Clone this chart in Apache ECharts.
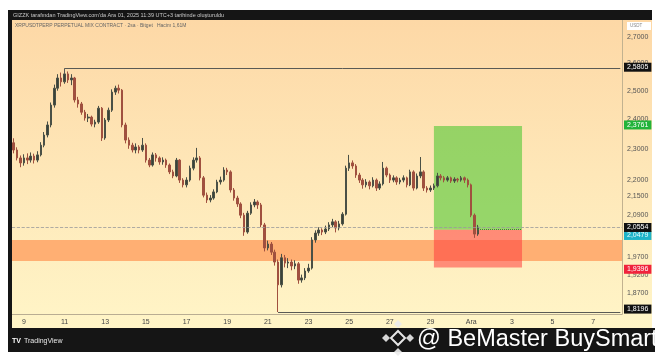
<!DOCTYPE html>
<html><head><meta charset="utf-8">
<script src="https://cdn.jsdelivr.net/npm/echarts@6/dist/echarts.min.js"></script>
<style>html,body{margin:0;padding:0;background:#fff}#c{width:662px;height:362px}</style>
</head><body><div id="c"></div>
<script>
// ---- data (4h candles, XRPUSDT.P) ----
// [open, close, low, high]
const ohlc = [
[2.320,2.296,2.285,2.335],[2.296,2.270,2.262,2.305],[2.270,2.254,2.240,2.278],[2.254,2.270,2.245,2.282],
[2.270,2.263,2.250,2.285],[2.263,2.276,2.255,2.288],[2.276,2.263,2.252,2.284],[2.263,2.280,2.256,2.292],
[2.280,2.312,2.275,2.322],[2.312,2.346,2.305,2.356],[2.346,2.380,2.338,2.392],[2.380,2.449,2.372,2.458],
[2.449,2.509,2.440,2.522],[2.509,2.546,2.500,2.560],[2.546,2.532,2.515,2.566],[2.532,2.561,2.525,2.5805],
[2.561,2.539,2.528,2.570],[2.539,2.546,2.520,2.560],[2.546,2.467,2.458,2.550],[2.467,2.453,2.440,2.478],
[2.453,2.424,2.415,2.460],[2.424,2.404,2.395,2.432],[2.404,2.407,2.390,2.418],[2.407,2.383,2.375,2.412],
[2.383,2.390,2.372,2.398],[2.390,2.438,2.384,2.446],[2.438,2.336,2.326,2.442],[2.336,2.397,2.330,2.404],
[2.397,2.431,2.390,2.440],[2.431,2.495,2.425,2.505],[2.495,2.509,2.485,2.518],[2.509,2.502,2.490,2.522],
[2.502,2.380,2.372,2.506],[2.380,2.329,2.318,2.388],[2.329,2.312,2.300,2.338],[2.312,2.296,2.288,2.320],
[2.296,2.306,2.285,2.318],[2.306,2.296,2.285,2.312],[2.296,2.312,2.290,2.336],[2.312,2.263,2.255,2.318],
[2.263,2.247,2.240,2.270],[2.247,2.280,2.242,2.288],[2.280,2.270,2.258,2.286],[2.270,2.257,2.248,2.275],
[2.257,2.263,2.248,2.272],[2.263,2.247,2.238,2.268],[2.247,2.225,2.218,2.252],[2.225,2.212,2.205,2.232],
[2.212,2.263,2.208,2.270],[2.263,2.199,2.190,2.266],[2.199,2.184,2.176,2.205],[2.184,2.199,2.176,2.208],
[2.199,2.237,2.194,2.245],[2.237,2.263,2.230,2.272],[2.263,2.270,2.255,2.303],[2.270,2.206,2.198,2.276],
[2.206,2.152,2.145,2.212],[2.152,2.137,2.128,2.160],[2.137,2.143,2.130,2.152],[2.143,2.162,2.138,2.170],
[2.162,2.193,2.158,2.200],[2.193,2.199,2.185,2.210],[2.199,2.231,2.194,2.240],[2.231,2.225,2.215,2.238],
[2.225,2.168,2.160,2.230],[2.168,2.143,2.135,2.174],[2.143,2.125,2.116,2.150],[2.125,2.091,2.082,2.130],
[2.091,2.041,2.030,2.098],[2.041,2.097,2.036,2.104],[2.097,2.122,2.092,2.130],[2.122,2.131,2.115,2.140],
[2.131,2.122,2.110,2.136],[2.122,2.062,2.055,2.128],[2.062,1.995,1.985,2.068],[1.995,2.006,1.988,2.016],
[2.006,1.983,1.975,2.012],[1.983,1.955,1.945,1.990],[1.955,1.892,1.8196,1.962],[1.892,1.967,1.885,1.978],
[1.967,1.952,1.940,1.975],[1.952,1.955,1.938,1.966],[1.955,1.944,1.932,1.962],[1.944,1.950,1.935,1.960],
[1.950,1.905,1.895,1.955],[1.905,1.911,1.898,1.920],[1.911,1.930,1.905,1.938],[1.930,1.938,1.925,1.950],
[1.938,2.018,1.934,2.026],[2.018,2.038,2.010,2.046],[2.038,2.047,2.030,2.055],[2.047,2.041,2.032,2.052],
[2.041,2.050,2.035,2.060],[2.050,2.062,2.044,2.070],[2.062,2.071,2.055,2.080],[2.071,2.053,2.040,2.076],
[2.053,2.065,2.046,2.074],[2.065,2.094,2.060,2.100],[2.094,2.237,2.090,2.245],[2.237,2.254,2.228,2.280],
[2.254,2.244,2.235,2.262],[2.244,2.215,2.206,2.250],[2.215,2.199,2.190,2.222],[2.199,2.184,2.172,2.205],
[2.184,2.193,2.176,2.202],[2.193,2.181,2.170,2.198],[2.181,2.199,2.176,2.208],[2.199,2.174,2.165,2.204],
[2.174,2.187,2.168,2.195],[2.187,2.237,2.182,2.257],[2.237,2.215,2.208,2.242],[2.215,2.199,2.190,2.220],
[2.199,2.206,2.192,2.214],[2.206,2.193,2.184,2.211],[2.193,2.199,2.186,2.206],[2.199,2.206,2.192,2.214],
[2.206,2.184,2.176,2.210],[2.184,2.225,2.180,2.232],[2.225,2.174,2.166,2.230],[2.174,2.212,2.170,2.220],
[2.212,2.225,2.205,2.273],[2.225,2.174,2.165,2.230],[2.174,2.168,2.160,2.180],[2.168,2.174,2.162,2.182],
[2.174,2.181,2.168,2.188],[2.181,2.212,2.176,2.222],[2.212,2.206,2.198,2.218],[2.206,2.199,2.192,2.212],
[2.199,2.206,2.194,2.212],[2.206,2.196,2.190,2.210],[2.196,2.202,2.190,2.208],[2.202,2.199,2.192,2.206],
[2.199,2.206,2.194,2.212],[2.206,2.199,2.190,2.210],[2.199,2.184,2.176,2.204],[2.184,2.091,2.085,2.188],
[2.091,2.035,2.024,2.096],[2.035,2.0554,2.030,2.062]
];
const priceTicks = [2.7, 2.6, 2.5, 2.4, 2.3, 2.2, 2.15, 2.09, 1.97, 1.92, 1.87];
const dayTicks = ['9','11','13','15','17','19','21','23','25','27','29','Ara','3','5','7'];
const highLevel = 2.5805, lowLevel = 1.8196, lastPrice = 2.0554;
const targetPrice = 2.3761, entryPrice = 2.0479, stopPrice = 1.9396;
const zoneTop = 2.018, zoneBottom = 1.958;
const highIdx = 15, lowIdx = 78, posStartIdx = 124, posEndIdx = 150;
const slotCount = 180;

// ---- build ----
const L = Math.log;
const fmt = p => p.toFixed(4).replace('.', ',');
const base = Date.UTC(2025, 10, 8, 12);
const cats = [];
for (let i = 0; i < slotCount; i++) {
  const d = new Date(base + i * 4 * 3600e3);
  cats.push((d.getUTCDate()) + '.' + (d.getUTCMonth() + 1) + ' ' + d.getUTCHours() + ':00');
}
const candleData = ohlc.map(r => r.map(L));
const yMax = L(2.767), yMin = L(1.8145);
const lastIdx = slotCount - 1;
const F = 'Liberation Sans';

function axisTag(p, bg, fg, dy) {
  return {
    yAxis: L(p),
    lineStyle: { color: 'rgba(0,0,0,0)', width: 0.1, type: 'solid' },
    label: { show: true, position: 'end', distance: 2, formatter: fmt(p), backgroundColor: bg, color: fg,
      fontSize: 7, fontFamily: F, padding: [1.5, 3, 0.5, 3], offset: [0, dy || 0] }
  };
}

const chart = echarts.init(document.getElementById('c'), null, { renderer: 'canvas' });
chart.setOption({
  animation: false,
  backgroundColor: '#ffffff',
  grid: { left: 12, right: 40, top: 20, bottom: 48 },
  xAxis: {
    type: 'category', data: cats, boundaryGap: true,
    axisLine: { show: true, lineStyle: { color: '#b9ad92', width: 1 } },
    axisTick: { show: false },
    axisLabel: {
      interval: i => i >= 3 && (i - 3) % 12 === 0,
      formatter: (v, i) => dayTicks[(i - 3) / 12] || '',
      color: '#444', fontSize: 7, fontFamily: F, margin: 5
    },
    splitLine: { show: false }
  },
  yAxis: {
    type: 'value', position: 'right', min: yMin, max: yMax, scale: true,
    axisLine: { show: true, lineStyle: { color: '#c2b290', width: 1 } },
    axisTick: { show: false },
    splitLine: { show: false },
    axisLabel: {
      customValues: priceTicks.map(L),
      formatter: v => fmt(Math.exp(v)),
      color: '#555', fontSize: 7, fontFamily: F, margin: 5
    }
  },
  graphic: [
    { type: 'rect', z: -10, silent: true, shape: { x: 12, y: 20, width: 640, height: 308 },
      style: { fill: new echarts.graphic.LinearGradient(0, 0, 0, 1, [
        { offset: 0, color: '#fdd8a6' }, { offset: 0.5, color: '#fee7b8' }, { offset: 1, color: '#fff5c7' }]) } },
    { type: 'rect', z: 100, silent: true, shape: { x: 8, y: 10, width: 644, height: 10 }, style: { fill: '#151515' } },
    { type: 'rect', z: 100, silent: true, shape: { x: 8, y: 10, width: 4, height: 342 }, style: { fill: '#151515' } },
    { type: 'rect', z: 100, silent: true, shape: { x: 8, y: 328, width: 647, height: 24 }, style: { fill: '#151515' } },
    { type: 'text', z: 101, silent: true, style: { x: 13, y: 15.5, text: "GIZZK tarafından TradingView.com'da Ara 01, 2025 11:39 UTC+3 tarihinde oluşturuldu",
      fill: '#c8c8c8', fontSize: 5.5, fontFamily: F, verticalAlign: 'middle' } },
    { type: 'text', z: 101, silent: true, style: { x: 15, y: 26, text: 'XRPUSDTPERP PERPETUAL MIX CONTRACT · 2sa · Bitget   Hacim 1,61M',
      fill: '#666', fontSize: 5, fontFamily: F, verticalAlign: 'middle' } },
    { type: 'rect', z: 101, silent: true, shape: { x: 627, y: 22, width: 24, height: 8 }, style: { fill: '#ffffff' } },
    { type: 'text', z: 102, silent: true, style: { x: 630, y: 26, text: 'USDT', fill: '#888', fontSize: 4.5, fontFamily: F, verticalAlign: 'middle' } },
    { type: 'text', z: 101, silent: true, style: { x: 12, y: 341, text: 'TV', fill: '#fff', fontSize: 7, fontWeight: 'bold', fontFamily: F, verticalAlign: 'middle' } },
    { type: 'text', z: 101, silent: true, style: { x: 24, y: 341, text: 'TradingView', fill: '#e8e8e8', fontSize: 7, fontFamily: F, verticalAlign: 'middle' } },
    // watermark logo (diamond outlines)
    { type: 'polygon', z: 102, silent: true, shape: { points: [[398,331],[405,338],[398,345],[391,338]] }, style: { fill: 'none', stroke: 'rgba(240,240,240,0.95)', lineWidth: 2 } },
    { type: 'polygon', z: 102, silent: true, shape: { points: [[398,320],[402,324],[398,328],[394,324]] }, style: { fill: 'rgba(235,235,235,0.9)' } },
    { type: 'polygon', z: 102, silent: true, shape: { points: [[398,348],[402,352],[398,356],[394,352]] }, style: { fill: 'rgba(235,235,235,0.9)' } },
    { type: 'polygon', z: 102, silent: true, shape: { points: [[386,334],[390,338],[386,342],[382,338]] }, style: { fill: 'rgba(235,235,235,0.9)' } },
    { type: 'polygon', z: 102, silent: true, shape: { points: [[410,334],[414,338],[410,342],[406,338]] }, style: { fill: 'rgba(235,235,235,0.9)' } },
    { type: 'text', z: 102, silent: true, style: { x: 417, y: 340, text: '@ BeMaster BuySmart', fill: '#ffffff', fontSize: 23.5, fontFamily: F, verticalAlign: 'middle' } }
  ],
  series: [{
    type: 'candlestick', z: 3, data: candleData, barWidth: '62%',
    itemStyle: { color: '#3a4237', color0: '#a0503f', borderColor: '#4a5046', borderColor0: '#a0503f', borderWidth: 1 },
    markArea: {
      silent: true, z: 1,
      data: [
        [{ yAxis: L(zoneTop), itemStyle: { color: '#ffaf73' } }, { yAxis: L(zoneBottom) }],
        [{ coord: [posStartIdx, L(targetPrice)], itemStyle: { color: 'rgba(80,200,50,0.6)' } }, { coord: [posEndIdx, L(entryPrice)] }],
        [{ coord: [posStartIdx, L(entryPrice)], itemStyle: { color: 'rgba(255,60,60,0.55)' } }, { coord: [posEndIdx, L(stopPrice)] }]
      ]
    },
    markLine: {
      silent: true, symbol: ['none', 'none'], z: 5,
      label: { show: false },
      data: [
        [{ coord: [highIdx, L(highLevel)], lineStyle: { color: '#5a5a55', width: 1, type: 'solid' } }, { coord: [lastIdx, L(highLevel)] }],
        [{ coord: [highIdx, L(highLevel)], lineStyle: { color: '#5a5a55', width: 1, type: 'solid' } }, { coord: [highIdx, L(2.56)] }],
        [{ coord: [lowIdx, L(lowLevel)], lineStyle: { color: '#5a5a55', width: 1, type: 'solid' } }, { coord: [lastIdx, L(lowLevel)] }],
        [{ coord: [ohlc.length - 1, L(entryPrice)], lineStyle: { color: '#2f8f2f', width: 1, type: 'dotted' } }, { coord: [posEndIdx, L(entryPrice)] }],
        axisTag(highLevel, '#111', '#fff', 0),
        axisTag(targetPrice, '#22b33a', '#fff', 2),
        axisTag(entryPrice, '#1fb3c8', '#e8ffff', 8),
        axisTag(stopPrice, '#f0233c', '#fff', 0),
        axisTag(lowLevel, '#111', '#fff', -2),
        { yAxis: L(lastPrice), lineStyle: { color: '#9a9a9a', width: 0.8, type: 'dashed' },
          label: { show: true, position: 'end', distance: 2, formatter: fmt(lastPrice), backgroundColor: '#111', color: '#fff',
            fontSize: 7, fontFamily: F, padding: [1.5, 3, 0.5, 3] } }
      ]
    }
  }]
});
</script></body></html>
